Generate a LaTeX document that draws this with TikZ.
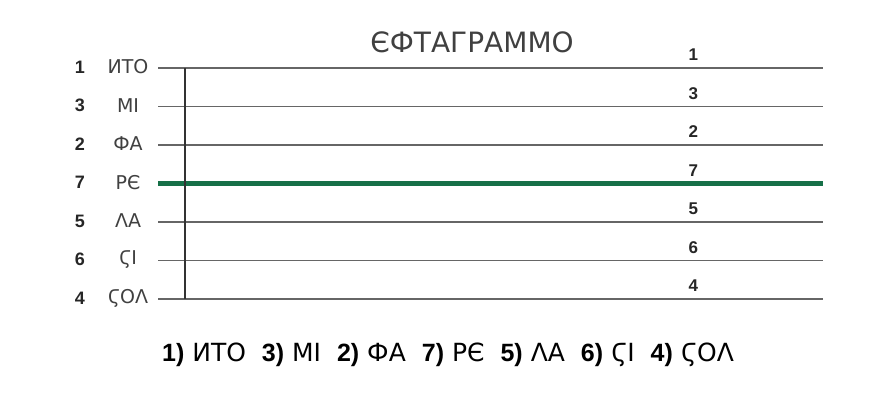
\documentclass[tikz,border=0pt]{standalone}
\usepackage{fontspec}
\setmainfont{DejaVu Sans}
\newfontfamily\numfont{Liberation Sans}
\usetikzlibrary{positioning, calc}
\definecolor{notegreen}{RGB}{22,112,72}
\tikzset{
  rowline/.style = {draw=black!60, line width=1.3pt},
  noteline/.style = {draw=notegreen, line width=4.5pt},
  stem/.style = {draw=black!80, line width=1.1pt},
  syl/.style = {inner sep=0pt, text=black!75,
    font=\fontsize{19}{19}\selectfont},
  num/.style = {inner sep=0pt, text=black!85,
    font=\numfont\bfseries\fontsize{18}{18}\selectfont}
}
\newcommand{\gap}{\hspace{16pt}}

\begin{document}
\begin{tikzpicture}[x=1pt, y=-1pt]
\useasboundingbox (0,0) rectangle (893,405);
\node [syl, font=\fontsize{28}{28}\selectfont] (title) at (472,42) {ЄФТАГРАММО};
% rows of the scale
\foreach \n/\s [count=\i] in {1/ИТО, 3/MI, 2/ФА, 7/РЄ, 5/ΛA, 6/ϚI, 4/ϚOΛ} {
  \coordinate (l\i) at (158,68+38.5*\i-38.5);
  \coordinate (r\i) at (823,68+38.5*\i-38.5);
  \draw [rowline] (l\i) -- (r\i);
  \node [num, left=73pt of l\i, yshift=1pt] (num\i) {\n};
  \node [syl, left=30pt of l\i, anchor=center, yshift=1pt] (syl\i) {\s};
  \node [num, font=\numfont\bfseries\fontsize{17}{17}\selectfont]
    (rn\i) at ($(l\i)!0.805!(r\i)+(0,-13)$) {\n};
}
\draw [noteline] (l4) -- (r4);
\coordinate (top) at (185,68);
\coordinate (bot) at (185,299);
\draw [stem] (top) -- (bot);
\node [syl, text=black, font=\fontsize{25}{25}\selectfont] (seq) at (448,355)
  {{\numfont\bfseries 1)} ИТО\gap{\numfont\bfseries 3)} MI\gap
   {\numfont\bfseries 2)} ФА\gap{\numfont\bfseries 7)} РЄ\gap
   {\numfont\bfseries 5)} ΛA\gap{\numfont\bfseries 6)} ϚI\gap
   {\numfont\bfseries 4)} ϚOΛ};
\end{tikzpicture}
\end{document}
